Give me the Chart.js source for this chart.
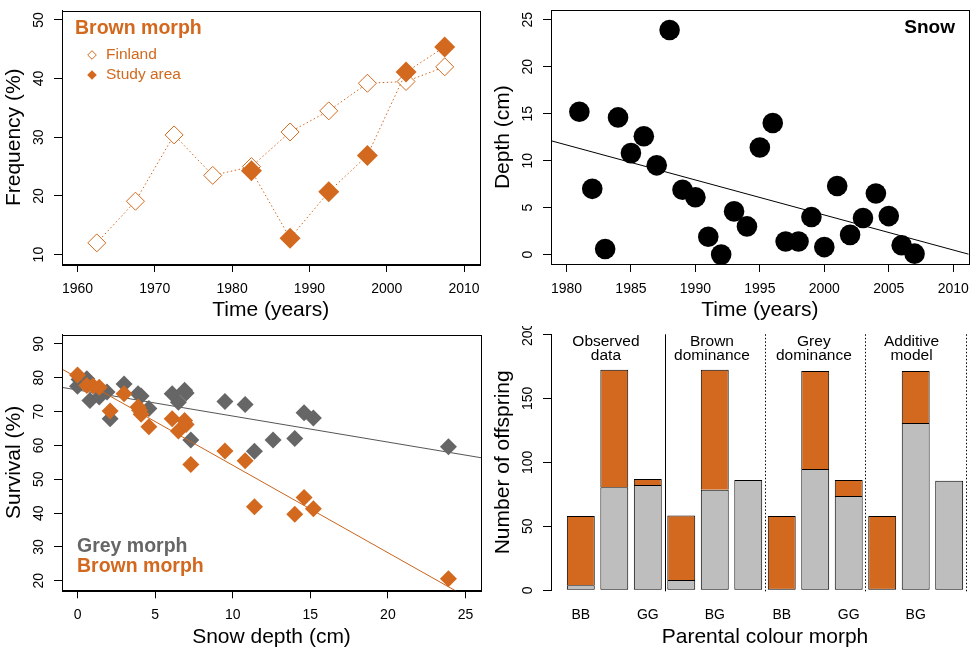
<!DOCTYPE html>
<html>
<head>
<meta charset="utf-8">
<title>Colour morph, snow and survival</title>
<script src="https://cdn.jsdelivr.net/npm/chart.js@4.4.1/dist/chart.umd.min.js"></script>
<style>
  html, body { margin: 0; padding: 0; background: #fff; overflow: hidden; }
  #wrap { position: relative; width: 979px; height: 653px; }
  #wrap canvas { position: absolute; }
</style>
</head>
<body>
<div id="wrap">
  <canvas id="freqChart" width="490" height="326" style="left:0;top:0"></canvas>
  <canvas id="snowChart" width="490" height="326" style="left:489px;top:0"></canvas>
  <canvas id="survChart" width="490" height="327" style="left:0;top:326px"></canvas>
  <canvas id="offsChart" width="490" height="327" style="left:489px;top:326px"></canvas>
</div>
<script>
// --- panel 1: brown morph frequency (5-year periods)
const periods = [1962.5, 1967.5, 1972.5, 1977.5, 1982.5, 1987.5, 1992.5, 1997.5, 2002.5, 2007.5];
const finlandFreq = [12.0, 19.1, 30.4, 23.5, 25.0, 30.9, 34.5, 39.2, 39.5, 42.0];
const studyFreq = [null, null, null, null, 24.3, 12.8, 20.7, 26.9, 41.1, 45.4];
const freqTicksX = [1960, 1970, 1980, 1990, 2000, 2010];
const freqTicksY = [10, 20, 30, 40, 50];

// --- panel 2: snow depth per year
const snowYears = [1981, 1982, 1983, 1984, 1985, 1986, 1987, 1988, 1989, 1990, 1991, 1992, 1993, 1994,
  1995, 1996, 1997, 1998, 1999, 2000, 2001, 2002, 2003, 2004, 2005, 2006, 2007];
const snowDepth = [15.2, 7.0, 0.6, 14.6, 10.8, 12.6, 9.5, 23.9, 6.9, 6.1, 1.9, 0.0, 4.6, 3.0,
  11.4, 14.0, 1.4, 1.4, 4.0, 0.8, 7.3, 2.1, 3.9, 6.5, 4.1, 1.0, 0.1];
const snowTrend = [11.67, -0.3727];   // depth at 1980, change per year
const snowTicksX = [1980, 1985, 1990, 1995, 2000, 2005, 2010];
const snowTicksY = [0, 5, 10, 15, 20, 25];

// --- panel 3: survival vs snow depth
const greyDepth = [0.0, 0.1, 0.6, 0.8, 1.4, 1.9, 2.1, 3.0, 3.9, 4.1, 4.6, 6.1, 6.5, 6.9, 7.0, 7.3, 9.5, 10.8, 11.4, 12.6, 14.0, 14.6, 15.2, 23.9];
const greySurv = [77.5, 79.5, 79.7, 73.3, 74.3, 75.8, 67.9, 78.2, 75.3, 74.6, 70.9, 75.3, 72.8, 76.3, 75.5, 61.6, 73.0, 72.1, 58.3, 61.6, 62.1, 69.7, 68.1, 59.6];
const brownDepth = [0.0, 0.6, 1.0, 1.4, 2.1, 3.0, 3.9, 4.0, 4.1, 4.6, 6.1, 6.5, 6.9, 7.0, 7.3, 9.5, 10.8, 11.4, 14.0, 14.6, 15.2, 23.9];
const brownSurv = [80.8, 77.7, 77.6, 77.2, 70.2, 75.3, 71.4, 70.4, 69.2, 65.5, 67.9, 64.3, 67.4, 66.2, 54.4, 58.4, 55.5, 41.9, 39.7, 44.6, 41.3, 20.6];
const greyTrend = [76.4, -0.77];      // survival at 0 cm, change per cm
const brownTrend = [80.0, -2.584];
const survTicksX = [0, 5, 10, 15, 20, 25];
const survTicksY = [20, 30, 40, 50, 60, 70, 80, 90];

// --- panel 4: offspring per parental pair type
const barLabels = ['BB', '', 'GG', '', 'BG', '', 'BB', '', 'GG', '', 'BG', ''];
const greyOffspring = [4, 80.5, 82.3, 8, 78.5, 86.2, 0, 94.8, 73.7, 0, 130.8, 85.5];
const brownOffspring = [54, 91.8, 4.6, 50.5, 93.8, 0, 58, 76.5, 12.5, 58, 40.5, 0];
const groupNames = [['Observed', 'data'], ['Brown', 'dominance'], ['Grey', 'dominance'], ['Additive', 'model']];
const groupLabelAt = [1.6, 5.4, 9.05, 12.55];
const groupBreaks = [3.7, 7.3, 10.9, 14.5];
const offsTicksY = [0, 50, 100, 150, 200];

const BROWN = '#D2691E';
const DARKGREY = '#666666';
const LIGHTGREY = '#BEBEBE';
const FONT = "'Liberation Sans', Arial, sans-serif";

Chart.defaults.font.family = FONT;
Chart.defaults.color = '#000';
Chart.defaults.animation = false;
Chart.defaults.plugins.legend.display = false;
Chart.defaults.plugins.tooltip.enabled = false;

function fixedTicks(values) {
  return scale => { scale.ticks = values.map(v => ({ value: v })); };
}

function yScale(min, max, tickVals, title) {
  return {
    type: 'linear', min: min, max: max,
    afterBuildTicks: fixedTicks(tickVals),
    afterFit: s => { s.width = 62; s.paddingTop = 0; s.paddingBottom = 0; },
    border: { display: true, color: '#000', width: 1 },
    grid: { drawOnChartArea: false, drawTicks: true, tickLength: 8, tickColor: '#000', color: '#000' },
    // labels are written by the yLabels plugin, turned along the axis like R does
    ticks: { display: false, autoSkip: false },
    title: { display: true, text: title, font: { size: 21 }, color: '#000', padding: { top: 1.4, bottom: 0 } }
  };
}

function xScale(min, max, tickVals, title, height) {
  return {
    type: 'linear', min: min, max: max, offset: false,
    afterBuildTicks: fixedTicks(tickVals),
    afterFit: s => { s.height = height; s.paddingLeft = 0; s.paddingRight = 0; },
    border: { display: true, color: '#000', width: 1 },
    grid: { drawOnChartArea: false, drawTicks: true, tickLength: 8, tickColor: '#000', color: '#000' },
    ticks: { maxRotation: 0, padding: 8.5, autoSkip: false, font: { size: 14 }, color: '#000', callback: v => String(v) },
    title: { display: true, text: title, font: { size: 21 }, color: '#000', padding: { top: 0, bottom: 3 } }
  };
}

const yLabels = {
  id: 'yLabels',
  afterDraw(chart) {
    const { ctx } = chart;
    const ys = chart.scales.y;
    ctx.save();
    ctx.fillStyle = '#000';
    ctx.font = '14px ' + FONT;
    ctx.textAlign = 'center'; ctx.textBaseline = 'middle';
    ys.ticks.forEach(t => {
      ctx.save();
      ctx.translate(39, ys.getPixelForValue(t.value));
      ctx.rotate(-Math.PI / 2);
      ctx.fillText(String(t.value), 0, 0);
      ctx.restore();
    });
    ctx.restore();
  }
};

const boxPlugin = {
  id: 'box',
  afterDraw(chart) {
    const { ctx, chartArea: a } = chart;
    ctx.save();
    ctx.strokeStyle = '#000';
    ctx.lineWidth = 1;
    ctx.strokeRect(Math.round(a.left) + 0.5, Math.round(a.top) + 0.5,
      Math.round(a.right - a.left), Math.round(a.bottom - a.top));
    ctx.restore();
  }
};

function diamond(ctx, x, y, r, filled) {
  ctx.beginPath();
  ctx.moveTo(x - r, y); ctx.lineTo(x, y - r); ctx.lineTo(x + r, y); ctx.lineTo(x, y + r);
  ctx.closePath();
  if (filled) ctx.fill(); else ctx.stroke();
}

function points(xs, ys) {
  return xs.map((x, i) => ({ x: x, y: ys[i] })).filter(p => p.y !== null);
}

// trend line drawn across the whole x range of the scale
function trendLine(trend, x0, xmin, xmax) {
  return [xmin, xmax].map(x => ({ x: x, y: trend[0] + trend[1] * (x - x0) }));
}

// ---------------- panel 1
new Chart(document.getElementById('freqChart'), {
  type: 'scatter',
  data: {
    datasets: [
      { label: 'Study area', data: points(periods, studyFreq), showLine: true,
        borderColor: BROWN, borderWidth: 1, borderDash: [1.5, 2.5],
        pointStyle: 'rectRot', pointRadius: 10.5, pointBackgroundColor: BROWN, pointBorderWidth: 0 },
      { label: 'Finland', data: points(periods, finlandFreq), showLine: true,
        borderColor: BROWN, borderWidth: 1, borderDash: [1.5, 2.5],
        pointStyle: 'rectRot', pointRadius: 9, pointBackgroundColor: '#fff', pointBorderColor: BROWN, pointBorderWidth: 1 }
    ]
  },
  options: {
    responsive: false,
    layout: { padding: { top: 7, right: 9, left: 0, bottom: 0 } },
    scales: {
      x: xScale(1958, 2012, freqTicksX, 'Time (years)', 62),
      y: yScale(8.4, 51.6, freqTicksY, 'Frequency (%)')
    }
  },
  plugins: [boxPlugin, yLabels, {
    id: 'freqLegend',
    afterDraw(chart) {
      const ctx = chart.ctx;
      ctx.save();
      ctx.fillStyle = BROWN; ctx.strokeStyle = BROWN; ctx.lineWidth = 1;
      ctx.textBaseline = 'middle';
      ctx.font = 'bold 19.5px ' + FONT;
      ctx.fillText('Brown morph', 75, 29);
      ctx.font = '15.5px ' + FONT;
      ctx.fillText('Finland', 106, 55);
      ctx.fillText('Study area', 106, 75);
      diamond(ctx, 92, 55, 4.3, false);
      diamond(ctx, 92, 75, 4.8, true);
      ctx.restore();
    }
  }]
});

// ---------------- panel 2
const snowMin = 1978.8, snowMax = 2011.2;
new Chart(document.getElementById('snowChart'), {
  type: 'scatter',
  data: {
    datasets: [
      { label: 'Snow depth', data: points(snowYears, snowDepth),
        pointRadius: 10.3, pointBackgroundColor: '#000', pointBorderWidth: 0 },
      { label: 'Trend', data: trendLine(snowTrend, 1980, snowMin, snowMax), showLine: true,
        borderColor: '#000', borderWidth: 1, pointRadius: 0 }
    ]
  },
  options: {
    responsive: false,
    layout: { padding: { top: 7, right: 8, left: 0, bottom: 0 } },
    scales: {
      x: xScale(snowMin, snowMax, snowTicksX, 'Time (years)', 62),
      y: yScale(-1, 26, snowTicksY, 'Depth (cm)')
    }
  },
  plugins: [boxPlugin, yLabels, {
    id: 'snowTitle',
    afterDraw(chart) {
      const ctx = chart.ctx;
      ctx.save();
      ctx.fillStyle = '#000';
      ctx.textAlign = 'right'; ctx.textBaseline = 'middle';
      ctx.font = 'bold 19px ' + FONT;
      ctx.fillText('Snow', 466, 28);
      ctx.restore();
    }
  }]
});

// ---------------- panel 3
new Chart(document.getElementById('survChart'), {
  type: 'scatter',
  data: {
    datasets: [
      { label: 'Brown morph', data: points(brownDepth, brownSurv),
        pointStyle: 'rectRot', pointRadius: 8.5, pointBackgroundColor: BROWN, pointBorderWidth: 0 },
      { label: 'Brown trend', data: trendLine(brownTrend, 0, -1, 26), showLine: true,
        borderColor: '#C8641E', borderWidth: 1, pointRadius: 0 },
      { label: 'Grey morph', data: points(greyDepth, greySurv),
        pointStyle: 'rectRot', pointRadius: 8.5, pointBackgroundColor: DARKGREY, pointBorderWidth: 0 },
      { label: 'Grey trend', data: trendLine(greyTrend, 0, -1, 26), showLine: true,
        borderColor: '#555555', borderWidth: 1, pointRadius: 0 }
    ]
  },
  options: {
    responsive: false,
    layout: { padding: { top: 7.3, right: 9, left: 0, bottom: 0 } },
    scales: {
      x: xScale(-1, 26, survTicksX, 'Snow depth (cm)', 62.7),
      y: yScale(17.2, 92.8, survTicksY, 'Survival (%)')
    }
  },
  plugins: [boxPlugin, yLabels, {
    id: 'survLegend',
    afterDraw(chart) {
      const ctx = chart.ctx;
      ctx.save();
      ctx.textBaseline = 'middle';
      ctx.font = 'bold 19.5px ' + FONT;
      ctx.fillStyle = DARKGREY;
      ctx.fillText('Grey morph', 77, 221);
      ctx.fillStyle = BROWN;
      ctx.fillText('Brown morph', 77, 240.7);
      ctx.restore();
    }
  }]
});

// ---------------- panel 4
const barPos = barLabels.map((_, i) => 0.7 + 1.2 * i);
const offsX = xScale(-0.368, 14.968, barPos, 'Parental colour morph', 62.7);
offsX.stacked = true;
offsX.border = { display: false };
offsX.grid = { display: false, drawTicks: false, drawOnChartArea: false };
offsX.ticks.padding = 16;
offsX.ticks.callback = (v, i) => barLabels[i];
const offsY = yScale(0, 200, offsTicksY, 'Number of offspring');
offsY.stacked = true;

new Chart(document.getElementById('offsChart'), {
  type: 'bar',
  data: {
    datasets: [
      { label: 'Grey offspring', data: points(barPos, greyOffspring),
        backgroundColor: LIGHTGREY, borderColor: '#000', borderWidth: 1, borderSkipped: false },
      { label: 'Brown offspring', data: points(barPos, brownOffspring),
        backgroundColor: BROWN, borderColor: '#000', borderWidth: 1,
        borderSkipped: c => greyOffspring[c.dataIndex] > 0 ? 'start' : false }
    ]
  },
  options: {
    responsive: false,
    categoryPercentage: 1,
    barPercentage: 1 / 1.2,
    layout: { padding: { top: 8.3, right: 0, left: 0, bottom: 0 } },
    scales: { x: offsX, y: offsY }
  },
  plugins: [yLabels, {
    id: 'groups',
    afterDraw(chart) {
      const { ctx, chartArea: a } = chart;
      const xs = chart.scales.x;
      ctx.save();
      ctx.strokeStyle = '#000'; ctx.lineWidth = 1;
      groupBreaks.forEach((b, i) => {
        const px = Math.round(xs.getPixelForValue(b)) + 0.5;
        ctx.setLineDash(i === 0 ? [] : [1.5, 2]);
        ctx.beginPath(); ctx.moveTo(px, a.top); ctx.lineTo(px, a.bottom + 1); ctx.stroke();
      });
      ctx.setLineDash([]);
      ctx.fillStyle = '#000';
      ctx.textAlign = 'center'; ctx.textBaseline = 'middle';
      ctx.font = '15.5px ' + FONT;
      groupNames.forEach((lines, i) => {
        const px = xs.getPixelForValue(groupLabelAt[i]);
        lines.forEach((t, j) => ctx.fillText(t, px, 16 + j * 14));
      });
      ctx.restore();
    }
  }]
});
</script>
</body>
</html>
